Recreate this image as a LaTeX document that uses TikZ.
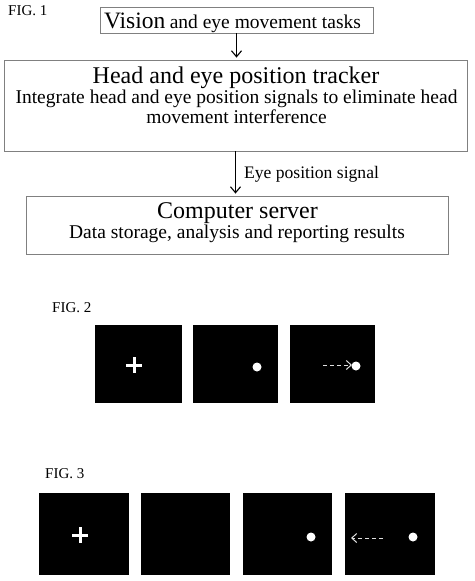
\documentclass[tikz,border=0pt]{standalone}
\usepackage{fontspec}
\setmainfont{Liberation Serif}
\usetikzlibrary{arrows.meta}

\tikzset{
  flowbox/.style={draw=gray, line width=0.8pt, inner sep=0pt},
  boxtext/.style={anchor=base, inner sep=0pt},
  headfont/.style={font=\fontsize{24}{26}\selectfont},
  bodyfont/.style={font=\fontsize{19.5}{20}\selectfont},
  figfont/.style={font=\fontsize{15}{17}\selectfont},
  flowarrow/.style={line width=1.1pt, shorten >=2pt, -{Straight Barb[length=6pt,width=10pt]}},
  screen/.style={fill=black},
  fixcross/.style={draw=white, line width=3pt},
  saccade/.style={draw=gray!25, dash pattern=on 4pt off 3pt, line width=1pt, -{Straight Barb[length=5pt,width=9pt]}}
}

\begin{document}
\begin{tikzpicture}[x=1pt,y=-1pt]

\useasboundingbox (0,0) rectangle (474,581);

% FIG. 1
\node[figfont, anchor=base west, inner sep=0pt] (fig1) at (8,15) {FIG. 1};

\node[flowbox, minimum width=273pt, minimum height=26pt] (tasks) at (236.5,20) {};
\node[boxtext] (taskstext) at (232.5,28)
  {{\fontsize{23.5}{24}\selectfont Vision}\hspace{2pt} {\fontsize{19.5}{20}\selectfont and eye movement tasks}};

\node[flowbox, minimum width=463pt, minimum height=91pt] (tracker) at (235.5,105.5) {};
\node[boxtext, headfont] (trackerhead) at (236,83) {Head and eye position tracker};
\node[boxtext, bodyfont] (trackerline) at (236.5,103) {Integrate head and eye position signals to eliminate head};
\node[boxtext, bodyfont] (trackerlast) at (236.5,123) {movement interference};

\node[flowbox, minimum width=422pt, minimum height=58pt] (server) at (237,225) {};
\node[boxtext, headfont] (serverhead) at (237.5,218) {Computer server};
\node[boxtext, bodyfont] (serverline) at (237,238) {Data storage, analysis and reporting results};

\draw[flowarrow] (tasks.south) -- (tasks.south |- tracker.north);
\draw[flowarrow] (tracker.south) -- node[anchor=west, xshift=8pt, yshift=-1pt, inner sep=0pt,
  font=\fontsize{17.6}{19}\selectfont] (signal) {Eye position signal} (tracker.south |- server.north);

% FIG. 2
\node[figfont, anchor=base west, inner sep=0pt] (fig2) at (52,312) {FIG. 2};

\fill[screen] (95,325) rectangle (182,403);
\fill[screen] (193,325) rectangle (278,403);
\fill[screen] (290,325) rectangle (375,403);

\draw[fixcross] (126,365) -- (142,365) (134,357) -- (134,373);
\fill[white] (257,367) circle (4.5pt);
\fill[white] (356,366) circle (4.5pt);
\draw[saccade] (323,365) -- (352,365);

% FIG. 3
\node[figfont, anchor=base west, inner sep=0pt] (fig3) at (45,478) {FIG. 3};

\fill[screen] (39,493) rectangle (129,575);
\fill[screen] (141,493) rectangle (230,575);
\fill[screen] (243,493) rectangle (332,575);
\fill[screen] (345,493) rectangle (435,575);

\draw[fixcross] (72,535) -- (88,535) (80,527) -- (80,543);
\fill[white] (311,537) circle (4.5pt);
\fill[white] (413,537) circle (4.5pt);
\draw[saccade] (383,538) -- (351,538);

\end{tikzpicture}
\end{document}
